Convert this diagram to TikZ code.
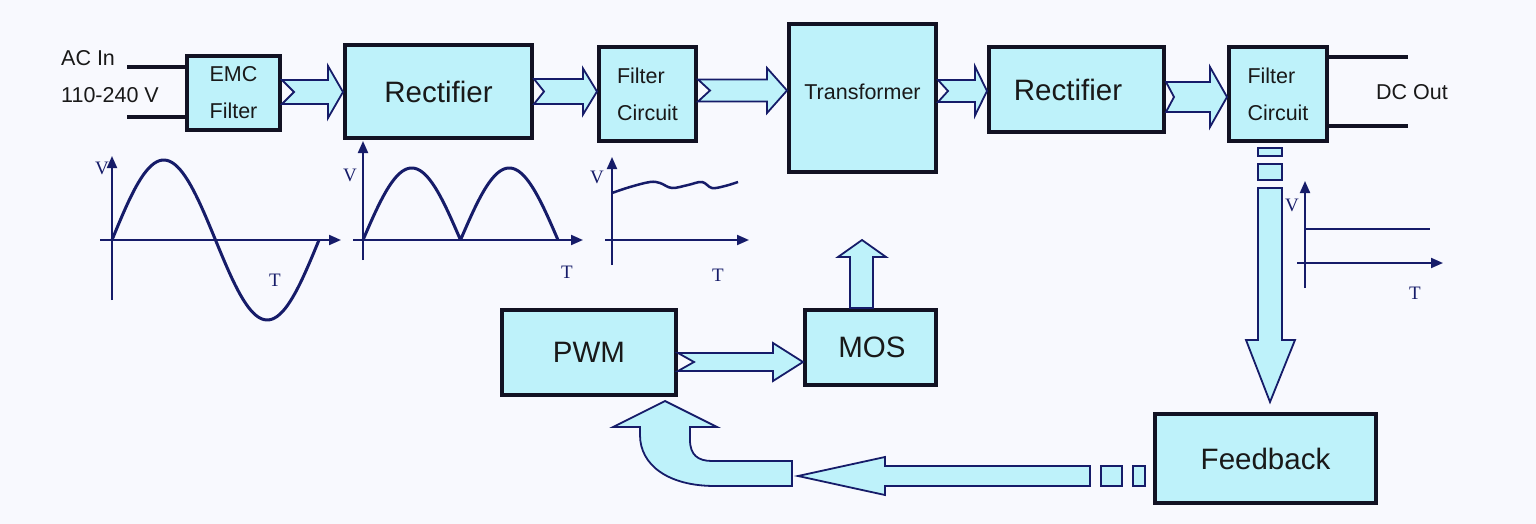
\documentclass[tikz,border=0pt]{standalone}
\usepackage{fontspec}
\setmainfont{Liberation Sans}
\newfontfamily\graphfont{Liberation Serif}
\usetikzlibrary{arrows.meta,calc}
\definecolor{bg}{RGB}{248,249,254}
\definecolor{boxfill}{RGB}{190,242,250}
\definecolor{boxline}{RGB}{18,18,35}
\definecolor{navy}{RGB}{22,28,105}
\definecolor{txt}{RGB}{25,25,25}
\tikzset{
 blk/.style={draw=boxline, fill=boxfill, line width=4pt, inner sep=0pt, text=txt},
 bigtxt/.style={font=\fontsize{29.5}{31}\selectfont},
 smalltxt/.style={font=\fontsize{21.5}{37}\selectfont, align=left},
 barrow/.style={draw=navy, fill=boxfill, line width=1.8pt, line join=miter},
 axis/.style={draw=navy, line width=2pt, -{Triangle[length=12pt,width=10pt]}},
 wave/.style={draw=navy, line width=3pt, line join=round},
 thinline/.style={draw=navy, line width=2pt},
 glabel/.style={font=\graphfont\fontsize{19}{20}\selectfont, text=navy, inner sep=0pt},
 wire/.style={draw=boxline, line width=4pt},
 lbl/.style={font=\fontsize{21.5}{22}\selectfont, text=txt, inner sep=0pt},
}
% block arrow from node #1 (east) to node #2 (west)
% #3 y centre, #4 shaft half height, #5 head half height, #6 head length, #7 tail notch
\newcommand\blockarr[7]{%
 \path[barrow] let \p1=(#1.east), \p2=(#2.west), \p3=(0,#3) in
  (\x1,\y3+#4pt) -- (\x2-#6pt,\y3+#4pt) -- (\x2-#6pt,\y3+#5pt) -- (\x2,\y3)
  -- (\x2-#6pt,\y3-#5pt) -- (\x2-#6pt,\y3-#4pt) -- (\x1,\y3-#4pt)
  -- (\x1+#7pt,\y3) -- cycle;}
\begin{document}
\begin{tikzpicture}[x=1pt,y=-1pt]
\fill[bg] (0,0) rectangle (1536,524);
\useasboundingbox (0,0) rectangle (1536,524);

% ---------- boxes ----------
\node[blk, smalltxt, minimum width=93pt, minimum height=74pt] (emc) at (233.5,93) {EMC\\Filter};
\node[blk, bigtxt, minimum width=187pt, minimum height=93pt] (r1) at (438.5,91.5) {Rectifier};
\node[blk, smalltxt, minimum width=97pt, minimum height=94pt] (f1) at (647.5,94) {Filter\\Circuit};
\node[blk, minimum width=147pt, minimum height=148pt] (tr) at (862.5,98) {};
\node[font=\fontsize{21.5}{22}\selectfont, text=txt] at (862.5,92) {Transformer};
\node[blk, minimum width=175pt, minimum height=85pt] (r2) at (1076.5,89.5) {};
\node[bigtxt, text=txt] at (1068,90) {Rectifier};
\node[blk, smalltxt, minimum width=98pt, minimum height=94pt] (f2) at (1278,94) {Filter\\Circuit};
\node[blk, bigtxt, minimum width=174pt, minimum height=85pt] (pwm) at (589,352.5) {PWM};
\node[blk, minimum width=131pt, minimum height=75pt] (mos) at (870.5,347.5) {};
\node[bigtxt, text=txt] at (872,347) {MOS};
\node[blk, bigtxt, minimum width=221pt, minimum height=89pt] (fb) at (1265.5,458.5) {Feedback};

% ---------- input / output ----------
\node[lbl, anchor=west] (acin) at (61,58) {AC In};
\node[lbl, anchor=west] (acv) at (61,95) {110-240 V};
\coordinate (ac1) at (127,67);
\coordinate (ac2) at (127,117);
\draw[wire] (ac1) -- (ac1 -| emc.west);
\draw[wire] (ac2) -- (ac2 -| emc.west);
\coordinate (dc1) at (1408,57);
\coordinate (dc2) at (1408,126);
\draw[wire] (dc1 -| f2.east) -- (dc1);
\draw[wire] (dc2 -| f2.east) -- (dc2);
\node[lbl] (dcout) at (1412,92) {DC Out};

% ---------- top row block arrows ----------
\blockarr{emc}{r1}{92}{12}{26}{15}{12}
\blockarr{r1}{f1}{91.5}{12.5}{23}{14}{10}
\blockarr{f1}{tr}{90.5}{11}{22.5}{20}{12}
\blockarr{tr}{r2}{91}{11}{24.5}{12}{10}
\blockarr{r2}{f2}{97}{15}{30}{17}{8}
\blockarr{pwm}{mos}{362}{9}{19}{30}{16}

% ---------- MOS up arrow ----------
\path[barrow] (850,308) -- (850,257) -- (838,257) -- (862,240) -- (886,257) -- (873,257) -- (873,308) -- cycle;

% ---------- filter -> feedback (down) ----------
\path[barrow] (1258,148) rectangle (1282,156);
\path[barrow] (1258,164) rectangle (1282,180);
\path[barrow] (1258,188) -- (1282,188) -- (1282,340) -- (1295,340) -- (1270,402) -- (1246,340) -- (1258,340) -- cycle;

% ---------- feedback -> PWM ----------
\path[barrow] (1133,466) rectangle (1145,486);
\path[barrow] (1101,466) rectangle (1122,486);
\path[barrow] (798,476) -- (885,457) -- (885,466) -- (1090,466) -- (1090,486) -- (885,486) -- (885,495) -- cycle;
\path[barrow] (665,401) -- (717,427) -- (690,427) -- (690,440) .. controls (690,455) and (698,461) .. (712,461)
  -- (792,461) -- (792,486) -- (715,486) .. controls (668,486) and (640,465) .. (640,435) -- (640,427) -- (613,427) -- cycle;

% ---------- graph 1: sine ----------
\draw[axis] (112,300) -- (112,156);
\draw[axis] (100,240) -- (341,240);
\draw[wave] plot[domain=0:207, samples=80] ({112+\x},{240-80*sin(\x/207*360)});
\node[glabel] at (102,168) {V};
\node[glabel] at (275,280) {T};

% ---------- graph 2: rectified ----------
\draw[axis] (363,260) -- (363,141);
\draw[axis] (353,240) -- (583,240);
\draw[wave] plot[domain=0:195, samples=120] ({363+\x},{240-72*abs(sin(\x/195*360))});
\node[glabel] at (350,175) {V};
\node[glabel] at (567,272) {T};

% ---------- graph 3: filtered ----------
\draw[axis] (612,265) -- (612,157);
\draw[axis] (605,240) -- (749,240);
\draw[thinline, line width=2.5pt] plot[smooth, tension=0.6] coordinates {(612,193) (630,187) (650,182) (660,183) (672,188) (688,185) (702,182) (712,188) (725,186) (738,182)};
\node[glabel] at (597,177) {V};
\node[glabel] at (718,275) {T};

% ---------- graph 4: DC ----------
\draw[axis] (1305,288) -- (1305,181);
\draw[axis] (1297,263) -- (1443,263);
\draw[thinline] (1305,229) -- (1430,229);
\node[glabel] at (1292,205) {V};
\node[glabel] at (1415,293) {T};
\end{tikzpicture}
\end{document}
